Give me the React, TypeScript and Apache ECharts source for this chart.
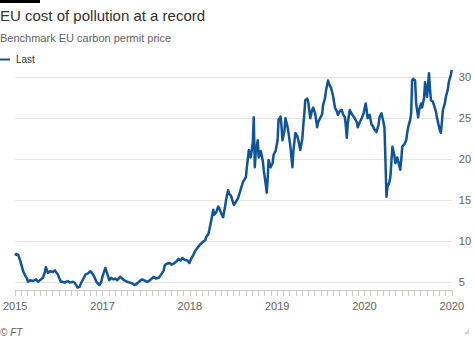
import React, { useEffect, useRef } from "react";
import * as echarts from "echarts";

const title = "EU cost of pollution at a record";
const subtitle = "Benchmark EU carbon permit price";
const seriesName = "Last";
const xTickLabels = ["2015", "2017", "2018", "2019", "2020", "2020"];
const yTicks = [5, 10, 15, 20, 25, 30];

// decimal years
const dates = [
  2016.0, 2016.011, 2016.034, 2016.057, 2016.091, 2016.113, 2016.136, 2016.147, 2016.17, 2016.204,
  2016.238, 2016.261, 2016.295, 2016.317, 2016.34, 2016.351, 2016.374, 2016.397, 2016.431, 2016.454,
  2016.488, 2016.51, 2016.522, 2016.544, 2016.567, 2016.601, 2016.624, 2016.658, 2016.68, 2016.703,
  2016.714, 2016.737, 2016.748, 2016.771, 2016.805, 2016.828, 2016.862, 2016.884, 2016.907, 2016.93,
  2016.964, 2016.986, 2016.998, 2017.02, 2017.032, 2017.054, 2017.077, 2017.1, 2017.122, 2017.145,
  2017.168, 2017.202, 2017.224, 2017.247, 2017.281, 2017.315, 2017.338, 2017.372, 2017.395, 2017.417,
  2017.451, 2017.474, 2017.508, 2017.531, 2017.565, 2017.587, 2017.61, 2017.644, 2017.678, 2017.701,
  2017.712, 2017.735, 2017.769, 2017.791, 2017.825, 2017.848, 2017.871, 2017.893, 2017.916, 2017.939,
  2017.973, 2017.995, 2018.018, 2018.041, 2018.063, 2018.098, 2018.12, 2018.154, 2018.177, 2018.188,
  2018.211, 2018.222, 2018.245, 2018.268, 2018.279, 2018.302, 2018.324, 2018.336, 2018.358, 2018.381,
  2018.404, 2018.415, 2018.438, 2018.449, 2018.472, 2018.494, 2018.506, 2018.528, 2018.551, 2018.574,
  2018.608, 2018.642, 2018.653, 2018.676, 2018.687, 2018.698, 2018.721, 2018.732, 2018.744, 2018.755,
  2018.778, 2018.789, 2018.812, 2018.834, 2018.846, 2018.868, 2018.88, 2018.891, 2018.902, 2018.925,
  2018.948, 2018.959, 2018.982, 2019.005, 2019.016, 2019.039, 2019.05, 2019.061, 2019.084, 2019.095,
  2019.118, 2019.129, 2019.152, 2019.175, 2019.186, 2019.209, 2019.231, 2019.243, 2019.265, 2019.288,
  2019.299, 2019.311, 2019.322, 2019.345, 2019.356, 2019.367, 2019.379, 2019.401, 2019.413, 2019.435,
  2019.458, 2019.469, 2019.492, 2019.515, 2019.526, 2019.549, 2019.56, 2019.583, 2019.594, 2019.617,
  2019.639, 2019.651, 2019.662, 2019.685, 2019.696, 2019.719, 2019.741, 2019.753, 2019.776, 2019.787,
  2019.798, 2019.81, 2019.832, 2019.855, 2019.889, 2019.912, 2019.923, 2019.946, 2019.968, 2019.991,
  2020.014, 2020.025, 2020.036, 2020.059, 2020.082, 2020.093, 2020.116, 2020.138, 2020.161, 2020.172,
  2020.195, 2020.218, 2020.229, 2020.24, 2020.252, 2020.263, 2020.286, 2020.297, 2020.32, 2020.342,
  2020.354, 2020.376, 2020.399, 2020.41, 2020.422, 2020.433, 2020.456, 2020.478, 2020.49, 2020.501,
  2020.524, 2020.535, 2020.546, 2020.558, 2020.58, 2020.592, 2020.615, 2020.626, 2020.649, 2020.66,
  2020.683, 2020.694, 2020.705, 2020.717, 2020.728, 2020.739, 2020.751, 2020.762, 2020.784, 2020.796,
  2020.819, 2020.83, 2020.853, 2020.864, 2020.875, 2020.887, 2020.898, 2020.921, 2020.932, 2020.955,
  2020.966, 2020.989, 2021.0,
];

const prices = [
  8.2, 8.4, 8.3, 7.6, 6.3, 5.8, 5.4, 5.0, 5.2, 5.1,
  5.3, 5.0, 5.3, 5.5, 6.2, 6.8, 6.1, 6.3, 6.2, 6.4,
  5.9, 5.3, 5.0, 5.0, 4.9, 5.1, 4.9, 5.0, 4.9, 4.5,
  4.3, 4.4, 4.7, 5.2, 5.9, 6.0, 6.3, 6.0, 5.6, 5.0,
  4.6, 5.0, 5.6, 6.3, 6.7, 6.0, 5.2, 5.5, 5.3, 5.4,
  5.2, 5.6, 5.4, 5.2, 5.0, 4.9, 4.8, 4.6, 4.8, 5.0,
  5.3, 5.2, 5.0, 5.1, 5.4, 5.6, 5.4, 5.5, 6.0, 6.4,
  7.0, 7.2, 7.3, 7.1, 7.3, 7.5, 7.8, 7.6, 7.9, 7.7,
  7.6, 7.3, 7.9, 8.3, 8.8, 9.3, 9.6, 9.9, 10.1, 10.5,
  10.8, 11.3, 12.5, 13.8, 13.2, 13.5, 14.2, 14.0, 13.4, 12.9,
  14.2, 15.0, 16.2, 15.8, 15.5, 14.7, 14.4, 14.8, 15.2, 16.0,
  17.2, 17.8, 19.0, 21.1, 20.5, 20.2, 22.0, 25.1, 19.0, 20.8,
  22.3, 20.2, 21.0, 19.9, 18.7, 17.0, 15.9, 17.5, 19.9, 19.0,
  19.5, 20.5, 21.0, 22.3, 24.8, 25.2, 24.0, 22.3, 23.5, 25.0,
  24.0, 23.3, 21.5, 19.0, 21.0, 23.2, 22.8, 22.3, 21.1, 22.5,
  24.1, 25.5, 27.2, 27.4, 27.0, 26.0, 25.0, 26.0, 26.3, 25.6,
  23.9, 24.5, 25.0, 25.5, 26.6, 27.5, 28.4, 29.6, 29.2, 28.7,
  27.8, 27.0, 26.3, 25.8, 25.4, 25.9, 26.0, 25.5, 25.1, 24.0,
  22.6, 24.5, 26.0, 25.5, 25.0, 24.5, 23.9, 24.5, 25.0, 25.6,
  26.8, 26.0, 25.0, 25.4, 24.2, 24.1, 23.6, 23.3, 24.2, 25.1,
  25.6, 24.5, 23.9, 20.0, 15.4, 16.6, 17.2, 17.8, 21.5, 20.5,
  19.5, 20.2, 19.2, 18.7, 20.0, 21.5, 21.8, 22.3, 23.2, 23.9,
  24.8, 25.6, 29.6, 29.8, 29.6, 26.8, 25.1, 26.0, 26.8, 26.3,
  27.5, 29.4, 28.5, 27.6, 29.0, 30.5, 28.5, 27.2, 27.0, 26.6,
  25.8, 25.1, 24.0, 23.5, 23.2, 24.5, 26.0, 26.8, 27.6, 28.5,
  29.4, 30.3, 30.9,
];

const FONT = "'Liberation Sans', Arial, sans-serif";
const INK = "#33302e";
const MUTED = "#66605c";
const BLUE = "#0f5499";
const GRID = "#e9e6e2";
const TICK = "#cfcac4";

export default function App() {
  const ref = useRef<HTMLDivElement>(null);
  useEffect(() => {
    if (!ref.current) return;
    const chart = echarts.init(ref.current, null, { renderer: "svg" });
    const xMin = 2016;
    const xMax = 2021;
    chart.setOption({
      animation: false,
      backgroundColor: "#ffffff",
      textStyle: { fontFamily: FONT },
      grid: { left: 12, right: 21, top: 65, bottom: 48, containLabel: false },
      xAxis: {
        type: "value",
        min: xMin,
        max: xMax,
        interval: 1,
        axisLine: { show: true, lineStyle: { color: TICK, width: 1 } },
        axisTick: { show: true, length: 6, lineStyle: { color: TICK } },
        minorTick: { show: true, splitNumber: 14, length: 6, lineStyle: { color: TICK } },
        splitLine: { show: false },
        axisLabel: {
          show: true,
          color: MUTED,
          fontSize: 11,
          fontFamily: FONT,
          margin: 10,
          showMinLabel: true,
          showMaxLabel: true,
          formatter: (v: number) => xTickLabels[Math.round(v - xMin)] ?? "",
        },
      },
      yAxis: {
        type: "value",
        position: "right",
        min: 4,
        max: 31.5,
        axisLine: { show: false },
        axisTick: { show: false, customValues: yTicks },
        splitLine: { show: true, lineStyle: { color: GRID, width: 1 } },
        axisLabel: {
          show: true,
          customValues: yTicks,
          color: MUTED,
          fontSize: 11,
          fontFamily: FONT,
          margin: 7,
        },
      },
      series: [
        {
          name: seriesName,
          type: "line",
          data: dates.map((d, i) => [d, prices[i]]),
          showSymbol: false,
          symbol: "none",
          lineStyle: { color: BLUE, width: 2.5, join: "round" },
          z: 3,
        },
      ],
      graphic: [
        { type: "rect", left: 0, top: 0, shape: { width: 40, height: 3 }, style: { fill: "#000000" } },
        {
          type: "text",
          left: 0,
          top: 8,
          style: { text: title, fill: INK, font: `15px ${FONT}` },
        },
        {
          type: "text",
          left: 0,
          top: 32,
          style: { text: subtitle, fill: MUTED, font: `11px ${FONT}` },
        },
        {
          type: "line",
          shape: { x1: 0, y1: 59.5, x2: 10, y2: 59.5 },
          style: { stroke: BLUE, lineWidth: 2 },
        },
        {
          type: "text",
          left: 16,
          top: 54,
          style: { text: seriesName, fill: INK, font: `10px ${FONT}` },
        },
        {
          type: "text",
          left: 0,
          top: 327,
          style: { text: "© FT", fill: MUTED, font: `italic 10px ${FONT}` },
        },
        {
          type: "polygon",
          shape: { points: [[469, 329], [469, 334], [464, 334]] },
          style: { fill: "#d9cfc6" },
        },
      ],
    });
    return () => chart.dispose();
  }, []);
  return (
    <div
      ref={ref}
      style={{ position: "fixed", left: 0, top: 0, width: 474, height: 338 }}
    />
  );
}
